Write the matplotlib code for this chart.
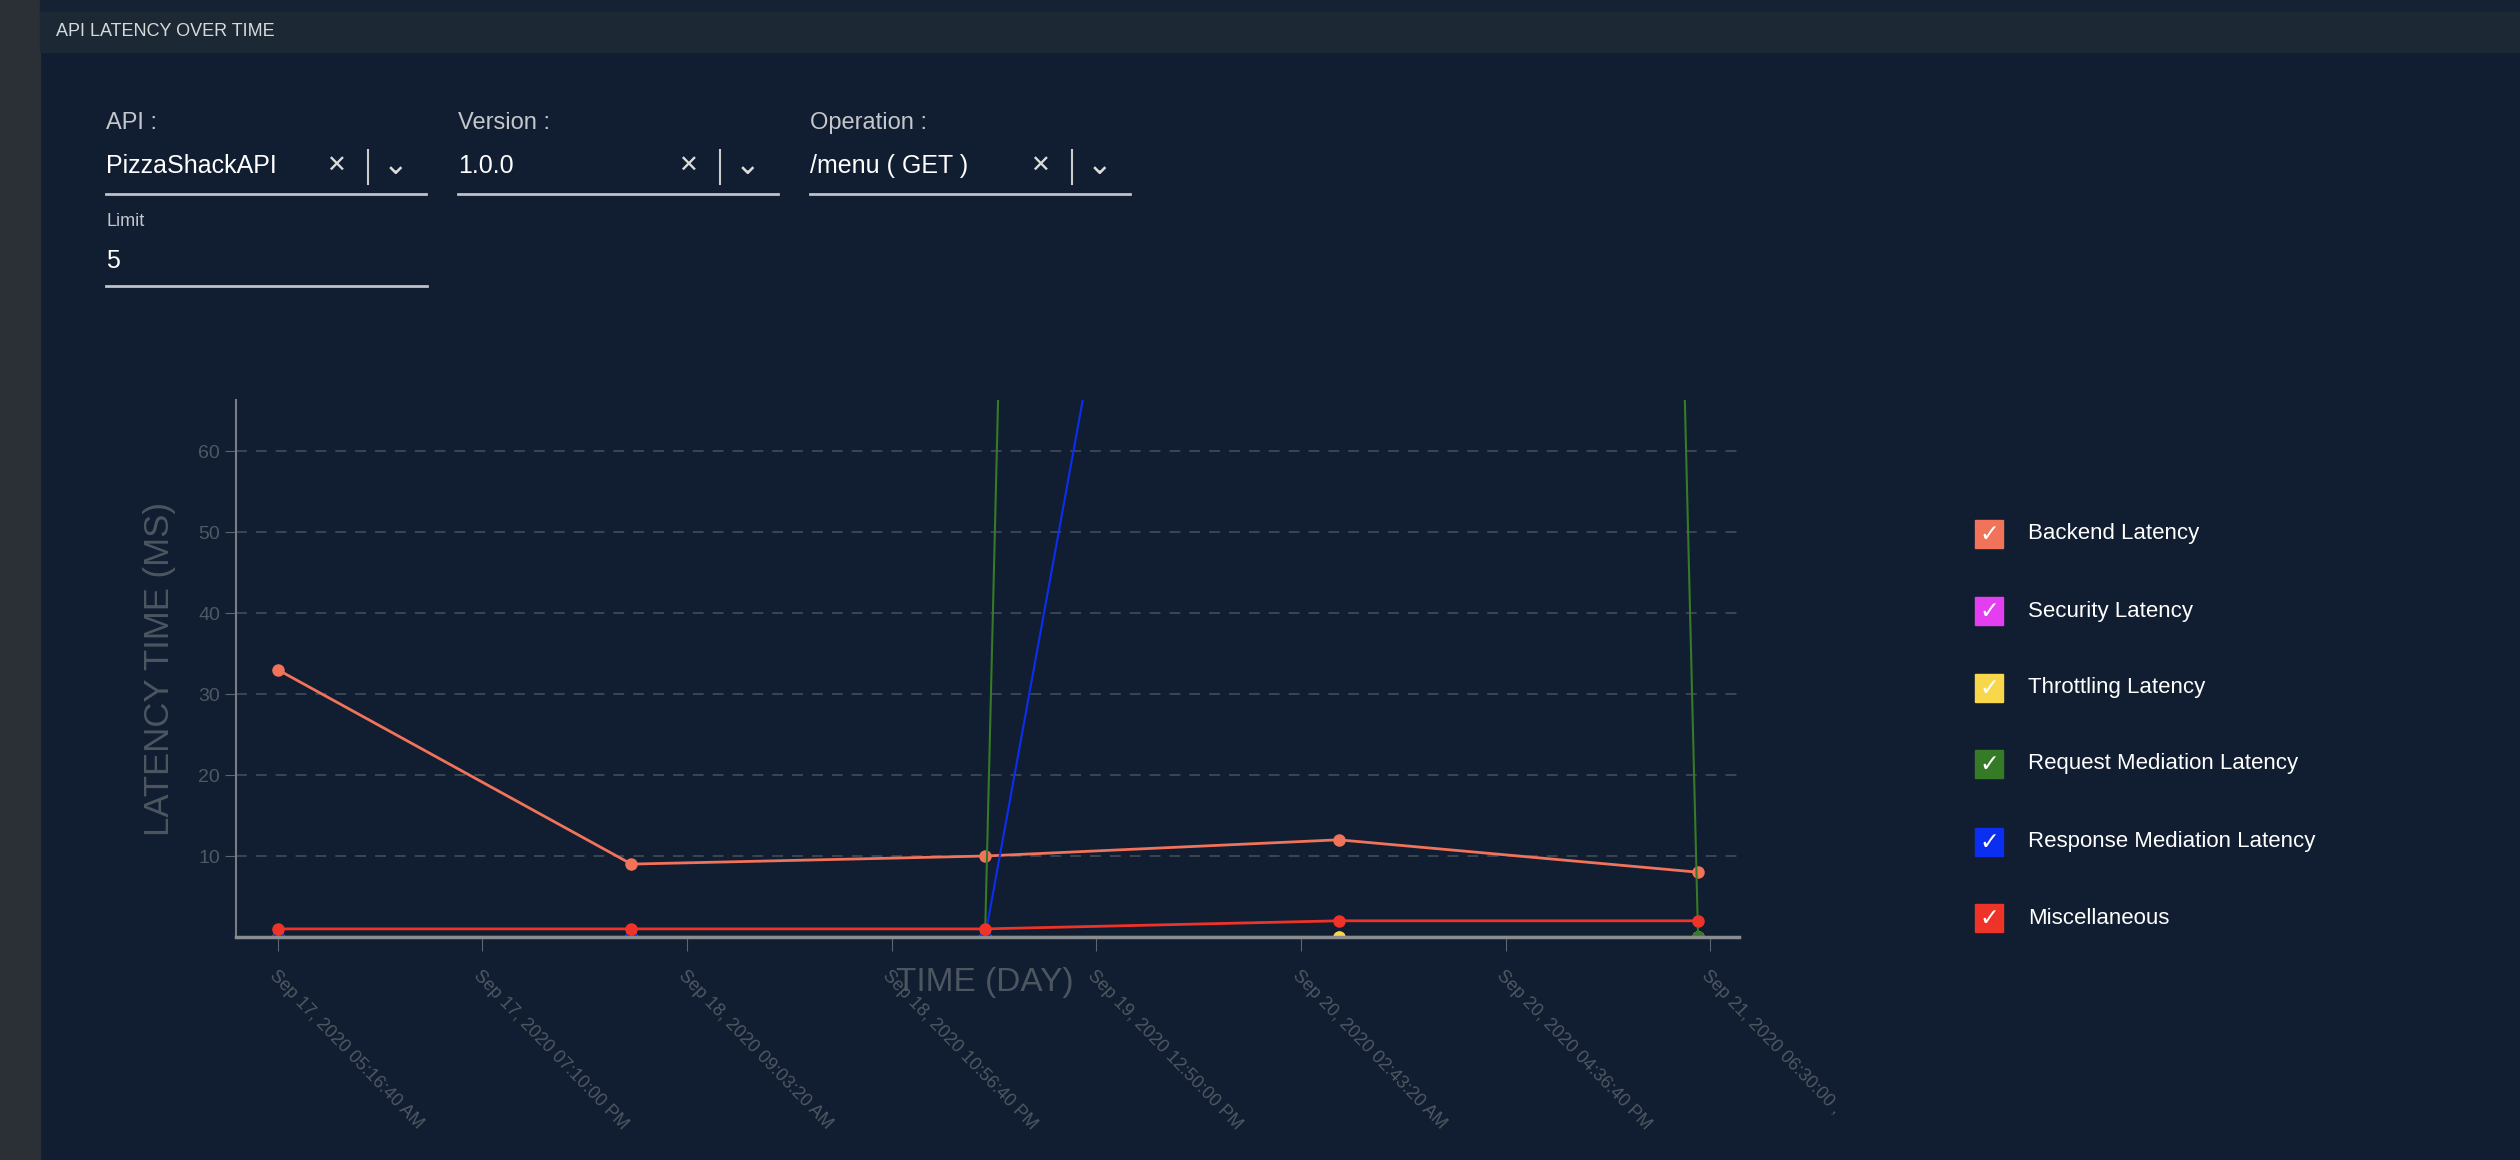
import matplotlib
matplotlib.use("Agg")
import matplotlib.pyplot as plt
from matplotlib.patches import Rectangle
from datetime import datetime, timedelta

plt.rcParams['font.family'] = ['Liberation Sans', 'DejaVu Sans']

dates = ["2020-09-17 05:16:40", "2020-09-18 05:16:40", "2020-09-19 05:16:40",
         "2020-09-20 05:16:40", "2020-09-21 05:40:00"]
backend = [33, 9, 10, 12, 8]
security = [0, 0, 0, 0, 0]
throttling = [0, 0, 0, 0, 0]
request_med = [0, 0, 0, 1800, 0]
response_med = [0, 0, 0, 240, 240]
misc = [1, 1, 1, 2, 2]
series_names = ["Backend Latency", "Security Latency", "Throttling Latency",
                "Request Mediation Latency", "Response Mediation Latency", "Miscellaneous"]
colors = ["#f0735a", "#e33ef0", "#f8d84a", "#357a26", "#0a2ff0", "#ee3328"]
tick_labels = ["Sep 17, 2020 05:16:40 AM", "Sep 17, 2020 07:10:00 PM", "Sep 18, 2020 09:03:20 AM",
               "Sep 18, 2020 10:56:40 PM", "Sep 19, 2020 12:50:00 PM", "Sep 20, 2020 02:43:20 AM",
               "Sep 20, 2020 04:36:40 PM", "Sep 21, 2020 06:30:00 ,"]
y_ticks = [10, 20, 30, 40, 50, 60]

BG = "#111d30"
t0 = datetime.strptime(dates[0], "%Y-%m-%d %H:%M:%S")
xs = [(datetime.strptime(d, "%Y-%m-%d %H:%M:%S") - t0).total_seconds() for d in dates]
tick_x = [i * 50000 for i in range(len(tick_labels))]

fig = plt.figure(figsize=(25.2, 11.6), dpi=100, facecolor=BG)
W, H = 2520, 1160
fig.patches.append(Rectangle((0, 0), 40 / W, 1, transform=fig.transFigure, color="#2b3036", zorder=0))
fig.patches.append(Rectangle((40 / W, 1 - 13 / H), 1, 13 / H, transform=fig.transFigure, color="#152233", zorder=0))
fig.patches.append(Rectangle((40 / W, 1 - 52 / H), 1, 40 / H, transform=fig.transFigure, color="#1c2833", zorder=0))
fig.text(56 / W, 1 - 31 / H, "API LATENCY OVER TIME", color="#d6d9dc", fontsize=13, va="center")

def fx(p): return p / W
def fy(p): return 1 - p / H

fields = [(106, "API :", "PizzaShackAPI"), (458, "Version :", "1.0.0"), (810, "Operation :", "/menu ( GET )")]
for x0, lab, val in fields:
    fig.text(fx(x0), fy(123), lab, color="#c4c7cb", fontsize=17, va="center")
    fig.text(fx(x0), fy(166), val, color="#ffffff", fontsize=18, va="center")
    fig.text(fx(x0 + 230), fy(166), "✕", color="#dcdcdc", fontsize=17, va="center", ha="center",
             family=["DejaVu Sans"])
    fig.lines.append(plt.Line2D([fx(x0 + 262)] * 2, [fy(150), fy(184)], transform=fig.transFigure,
                                color="#cccccc", lw=1.5))
    fig.text(fx(x0 + 290), fy(166), "⌄", color="#dcdcdc", fontsize=22, va="center", ha="center",
             family=["DejaVu Sans"])
    fig.lines.append(plt.Line2D([fx(x0), fx(x0 + 320)], [fy(194)] * 2, transform=fig.transFigure,
                                color="#bfc2c6", lw=2))
fig.text(fx(106), fy(222), "Limit", color="#c4c7cb", fontsize=13, va="center")
fig.text(fx(106), fy(261), "5", color="#ffffff", fontsize=18, va="center")
fig.lines.append(plt.Line2D([fx(106), fx(427)], [fy(286)] * 2, transform=fig.transFigure, color="#bfc2c6", lw=2))

ax = fig.add_axes([fx(236), fy(937), (1739 - 236) / W, (937 - 400) / H])
ax.set_facecolor(BG)
allv = [backend, security, throttling, request_med, response_med, misc]
for name, vals, c in zip(series_names, allv, colors):
    lw = 2.0 if name in ("Backend Latency", "Miscellaneous") else 1.5
    ax.plot(xs, vals, color=c, lw=lw, marker="o", ms=8)
ax.set_xlim(-10200, 350000 + 7000)
ax.set_ylim(0, 66.3)
ax.set_yticks(y_ticks)
ax.set_xticks(tick_x)
ax.set_xticklabels(tick_labels, rotation=-46, ha="left", va="top", rotation_mode="anchor")
ax.tick_params(axis="x", colors="#5a6570", labelcolor="#4e5963", labelsize=13, length=10, pad=12)
ax.tick_params(axis="y", colors="#5a6570", labelcolor="#4e5963", labelsize=14, length=8)
ax.grid(axis="y", color="#3e4957", ls=(0, (6, 5)), lw=1.3)
for s in ["top", "right"]:
    ax.spines[s].set_visible(False)
ax.spines["left"].set_color("#777d83")
ax.spines["bottom"].set_color("#8a8d90")
ax.spines["bottom"].set_linewidth(2.5)
ax.spines["left"].set_linewidth(1.5)
ax.set_ylabel("LATENCY TIME (MS)", color="#4c5660", fontsize=25, labelpad=16)
ax.set_xlabel("TIME (DAY)", color="#4c5660", fontsize=24)
ax.xaxis.set_label_coords((985 - 236) / (1739 - 236), -0.055)

leg_y = [534, 611, 688, 764, 842, 918]
for name, c, yy in zip(series_names, colors, leg_y):
    fig.patches.append(Rectangle((fx(1975), fy(yy + 14)), 28 / W, 28 / H, transform=fig.transFigure,
                                 color=c, zorder=2))
    fig.text(fx(1989), fy(yy), "✓", color="#ffffff", fontsize=17, ha="center", va="center",
             family=["DejaVu Sans"], zorder=3)
    fig.text(fx(2028), fy(yy), name, color="#ffffff", fontsize=16, va="center")

fig.savefig("out.png", dpi=100, facecolor=BG)
